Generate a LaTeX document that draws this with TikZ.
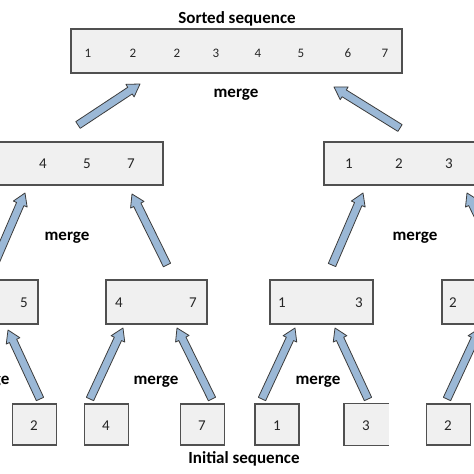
\documentclass[tikz,border=0pt]{standalone}
\usepackage{fontspec}
\setmainfont{Carlito}
\usetikzlibrary{calc}
\definecolor{boxfill}{HTML}{F0F0F0}
\definecolor{boxline}{HTML}{505050}
\definecolor{arrfill}{HTML}{9BB8D6}
\definecolor{arrline}{HTML}{3C3C3C}
\tikzset{
  box/.style={draw=boxline, fill=boxfill, line width=1.1pt, rectangle, inner sep=0pt},
  leafbox/.style={box, minimum width=44pt, minimum height=41pt},
  midbox/.style={box, minimum height=44pt},
  digit/.style={font=\fontsize{15}{15}\selectfont, text=black!85, inner sep=0pt, anchor=base},
  topdigit/.style={digit, font=\fontsize{13}{13}\selectfont},
  lbl/.style={font=\bfseries\fontsize{17}{17}\selectfont, inner sep=0pt, anchor=base},
  blockarr/.style={draw=arrline, fill=arrfill, line width=0.8pt, line join=round}
}
\newcommand\blockarrow[2]{%
  \coordinate (ba-hb) at ($(#2)!12pt!(#1)$);
  \draw[blockarr] ($(#1)!4pt!90:(#2)$) -- ($(ba-hb)!4pt!-90:(#1)$) -- ($(ba-hb)!7.5pt!-90:(#1)$) -- (#2)
    -- ($(ba-hb)!7.5pt!90:(#1)$) -- ($(ba-hb)!4pt!90:(#1)$) -- ($(#1)!4pt!-90:(#2)$) -- cycle;
}
\begin{document}
\begin{tikzpicture}[x=1pt, y=-1pt]
\useasboundingbox (0,0) rectangle (474,474);
\clip (0,0) rectangle (474,474);
\fill[white] (0,0) rectangle (474,474);

% titles
\node[lbl] (title) at (237,23) {Sorted sequence};
\node[lbl] (init) at (244,463) {Initial sequence};

% top box
\node[box, minimum width=331pt, minimum height=44pt] (top) at (236.5,51) {};
\foreach \d/\x [count=\i] in {1/88,2/133,2/177,3/216,4/258,5/301,6/348,7/385}
  \node[topdigit] (t\i) at (\x,57) {\d};

% level 2 boxes
\node[midbox, minimum width=203pt, minimum height=43pt] (la) at (61.5,163.5) {};
\node[midbox, minimum width=206pt, minimum height=43pt] (lb) at (427,163.5) {};
\node[digit] (la1) at (43,168) {4};
\node[digit] (la2) at (87,168) {5};
\node[digit] (la3) at (131,168) {7};
\node[digit] (lb1) at (349,168) {1};
\node[digit] (lb2) at (399,168) {2};
\node[digit] (lb3) at (449,168) {3};

% level 3 boxes
\node[midbox, minimum width=102pt] (ma) at (-13,302) {};
\node[midbox, minimum width=101pt] (mb) at (156.5,302) {};
\node[midbox, minimum width=103pt] (mc) at (321.5,302) {};
\node[midbox, minimum width=103pt] (md) at (493.5,302) {};
\node[digit] (ma1) at (24,307.5) {5};
\node[digit] (mb1) at (119,307.5) {4};
\node[digit] (mb2) at (193,307.5) {7};
\node[digit] (mc1) at (282,307.5) {1};
\node[digit] (mc2) at (359,307.5) {3};
\node[digit] (md1) at (453,307.5) {2};

% leaves
\node[leafbox] (f1) at (34.5,424.5) {};
\node[leafbox] (f2) at (106.5,424.5) {};
\node[leafbox] (f3) at (202.5,424.5) {};
\node[leafbox] (f4) at (277,424.5) {};
\node[box, draw=none, minimum width=44pt, minimum height=41pt] (f5) at (366.5,424.5) {};
\draw[boxline, line width=1.1pt] (f5.north east) -- (f5.north west) -- (f5.south west) -- (f5.south east);
\node[leafbox] (f6) at (448.5,424.5) {};
\node[digit] (f1d) at (34,430.5) {2};
\node[digit] (f2d) at (106,430.5) {4};
\node[digit] (f3d) at (202,430.5) {7};
\node[digit] (f4d) at (277,430.5) {1};
\node[digit] (f5d) at (366,430.5) {3};
\node[digit] (f6d) at (448,430.5) {2};

% merge labels
\node[lbl] (m0) at (236,97) {merge};
\node[lbl] (m1) at (67,240) {merge};
\node[lbl] (m2) at (415,240) {merge};
\node[lbl] (m3) at (-13,384.5) {merge};
\node[lbl] (m4) at (156,384.5) {merge};
\node[lbl] (m5) at (318,384.5) {merge};

% arrow end points
\coordinate (ta1) at (78,125);  \coordinate (ha1) at (140,84);
\coordinate (ta2) at (400,128); \coordinate (ha2) at (334,87);
\coordinate (tb1) at (-6,265);  \coordinate (hb1) at (25,193);
\coordinate (tb2) at (167,265); \coordinate (hb2) at (132,194);
\coordinate (tb3) at (332,265); \coordinate (hb3) at (363,193);
\coordinate (tb4) at (502,265); \coordinate (hb4) at (467,193);
\coordinate (tc1) at (40,399);  \coordinate (hc1) at (8,330);
\coordinate (tc2) at (90,399);  \coordinate (hc2) at (123,328);
\coordinate (tc3) at (212,399); \coordinate (hc3) at (177,328);
\coordinate (tc4) at (262,399); \coordinate (hc4) at (295,328);
\coordinate (tc5) at (368,399); \coordinate (hc5) at (335,328);
\coordinate (tc6) at (447,399); \coordinate (hc6) at (480,328);

\blockarrow{ta1}{ha1}
\blockarrow{ta2}{ha2}
\blockarrow{tb1}{hb1}
\blockarrow{tb2}{hb2}
\blockarrow{tb3}{hb3}
\blockarrow{tb4}{hb4}
\blockarrow{tc1}{hc1}
\blockarrow{tc2}{hc2}
\blockarrow{tc3}{hc3}
\blockarrow{tc4}{hc4}
\blockarrow{tc5}{hc5}
\blockarrow{tc6}{hc6}
\end{tikzpicture}
\end{document}
